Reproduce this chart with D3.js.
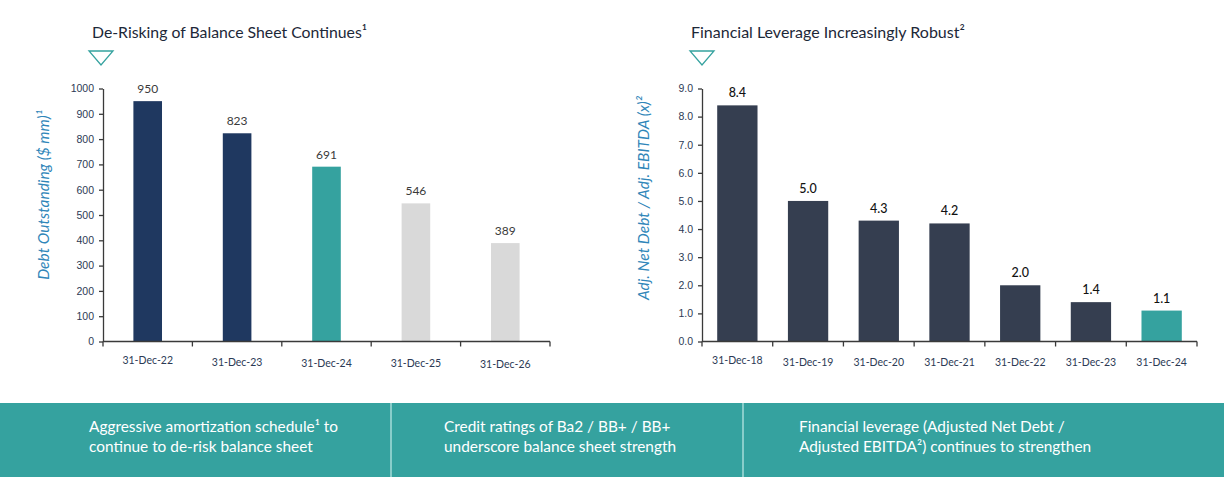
<!DOCTYPE html>
<html>
<head>
<meta charset="utf-8">
<script src="https://cdn.jsdelivr.net/npm/d3@7"></script>
<style>
  body { margin: 0; background: #fff; }
  svg { display: block; font-family: Lato, "Open Sans", sans-serif; }
  .axis path, .axis line { stroke: #3a3a3a; stroke-width: 1.3; }
  .axis text { fill: #2c3a55; }
</style>
</head>
<body>
<div class="draw-area"></div>
<script>
// ---- Data ----
const debtDates = ["31-Dec-22", "31-Dec-23", "31-Dec-24", "31-Dec-25", "31-Dec-26"];
const debtValues = [950, 823, 691, 546, 389];
const debtTicks = [0, 100, 200, 300, 400, 500, 600, 700, 800, 900, 1000];

const levDates = ["31-Dec-18", "31-Dec-19", "31-Dec-20", "31-Dec-21", "31-Dec-22", "31-Dec-23", "31-Dec-24"];
const levValues = [8.4, 5.0, 4.3, 4.2, 2.0, 1.4, 1.1];
const levTicks = [0, 1, 2, 3, 4, 5, 6, 7, 8, 9];

const titles = ["De-Risking of Balance Sheet Continues\u00B9", "Financial Leverage Increasingly Robust\u00B2"];
const yTitles = ["Debt Outstanding ($ mm)\u00B9", "Adj. Net Debt / Adj. EBITDA (x)\u00B2"];
const takeaways = [
  ["Aggressive amortization schedule\u00B9 to", "continue to de-risk balance sheet"],
  ["Credit ratings of Ba2 / BB+ / BB+", "underscore balance sheet strength"],
  ["Financial leverage (Adjusted Net Debt /", "Adjusted EBITDA\u00B2) continues to strengthen"]
];

// ---- Colours ----
const navy = "#1f3860", slate = "#353e50", teal = "#35a29f", grey = "#d9d9d9";

const width = 1224, height = 477;
const svg = d3.select(".draw-area").append("svg")
  .attr("width", width).attr("height", height);

// Generic bar panel
function drawPanel(opt) {
  const x = d3.scaleBand().domain(opt.cats)
    .range([opt.x0, opt.x1]).paddingInner(opt.pad).paddingOuter(opt.pad / 2);
  const y = d3.scaleLinear().domain(opt.domain).range([341.5, 88.5]);

  // title + triangle marker
  svg.append("text").attr("x", opt.titleX).attr("y", 38)
    .attr("font-size", opt.titleSize).attr("fill", "#1d2838").text(opt.title);
  const tx = opt.triX;
  svg.append("path")
    .attr("d", `M${tx - 12},51 L${tx + 12},51 L${tx},65 Z`)
    .attr("fill", "none").attr("stroke", teal).attr("stroke-width", 1.3);

  // bars
  svg.append("g").selectAll("rect").data(opt.values).join("rect")
    .attr("x", (d, i) => x(opt.cats[i]))
    .attr("y", d => y(d))
    .attr("width", x.bandwidth())
    .attr("height", d => y(0) - y(d))
    .attr("fill", (d, i) => opt.color(opt.cats[i]));

  // value labels
  svg.append("g").selectAll("text").data(opt.values).join("text")
    .attr("x", (d, i) => x(opt.cats[i]) + x.bandwidth() / 2)
    .attr("y", d => y(d) - 8)
    .attr("text-anchor", "middle")
    .attr("font-size", opt.valSize).attr("font-weight", opt.valWeight)
    .attr("fill", opt.valColor)
    .text(d => opt.fmt(d));

  // y axis
  svg.append("g").attr("class", "axis")
    .attr("transform", `translate(${opt.x0},0)`)
    .call(d3.axisLeft(y).tickValues(opt.ticks).tickFormat(opt.tickFmt).tickSize(4).tickSizeOuter(0))
    .call(g => g.selectAll("text").attr("font-size", 10.5).attr("dx", "-2"));

  // x axis: ticks at band edges
  const xAxis = svg.append("g").attr("class", "axis")
    .attr("transform", `translate(0,${y(0)})`);
  xAxis.append("line").attr("x1", opt.x0).attr("x2", opt.x1);
  const edges = opt.cats.map(c => x(c) - x.step() * opt.pad / 2).concat([opt.x1]);
  xAxis.selectAll(".edge").data(edges).join("line").attr("class", "edge")
    .attr("x1", d => d).attr("x2", d => d).attr("y1", 0).attr("y2", 5);
  xAxis.selectAll(".lbl").data(opt.cats).join("text").attr("class", "lbl")
    .attr("x", c => x(c) + x.bandwidth() / 2)
    .attr("y", (c, i) => (i === 0 ? 22 : 24) + (opt.stagger ? i * 0.6 : 0))
    .attr("text-anchor", "middle").attr("font-size", 10.5).attr("fill", "#4a5878")
    .text(c => c);

  // y title
  svg.append("text")
    .attr("transform", `translate(${opt.yTitleX},${opt.yTitleY}) rotate(-90)`)
    .attr("text-anchor", "middle").attr("dominant-baseline", "central")
    .attr("font-size", opt.yTitleSize).attr("font-style", "italic").attr("fill", "#2f86b9")
    .text(opt.yTitle);
}

drawPanel({
  cats: debtDates, values: debtValues, domain: [0, 1000], ticks: debtTicks,
  x0: 103, x1: 550, pad: 0.68,
  color: d3.scaleOrdinal().domain(debtDates).range([navy, navy, teal, grey, grey]),
  fmt: d3.format("d"), tickFmt: d3.format("d"),
  valSize: 12, valWeight: 400, valColor: "#3a3a3a",
  title: titles[0], titleX: 92, triX: 101, titleSize: 15.8,
  yTitle: yTitles[0], yTitleX: 43, yTitleY: 195, yTitleSize: 15.5, stagger: true
});

drawPanel({
  cats: levDates, values: levValues, domain: [0, 9], ticks: levTicks,
  x0: 702, x1: 1197, pad: 0.43,
  color: d3.scaleOrdinal().domain(levDates).range([slate, slate, slate, slate, slate, slate, teal]),
  fmt: d3.format(".1f"), tickFmt: d3.format(".1f"),
  valSize: 12.5, valWeight: 500, valColor: "#111",
  title: titles[1], titleX: 691, triX: 702, titleSize: 16,
  yTitle: yTitles[1], yTitleX: 643, yTitleY: 198, yTitleSize: 15.5, stagger: false
});

// ---- Bottom takeaway band ----
const band = svg.append("g");
band.append("rect").attr("x", 0).attr("y", 403).attr("width", width).attr("height", height - 403)
  .attr("fill", teal);
const dividers = [391, 743];
band.selectAll("line").data(dividers).join("line")
  .attr("x1", d => d).attr("x2", d => d).attr("y1", 403).attr("y2", height)
  .attr("stroke", "#a6dbd8").attr("stroke-width", 1.5);
const textX = [89, 444, 799];
takeaways.forEach((lines, i) => {
  band.append("text").attr("x", textX[i]).attr("y", 432)
    .attr("font-size", 15.4).attr("fill", "#fff")
    .selectAll("tspan").data(lines).join("tspan")
    .attr("x", textX[i]).attr("dy", (d, j) => j === 0 ? 0 : 20)
    .text(d => d);
});
</script>
</body>
</html>
